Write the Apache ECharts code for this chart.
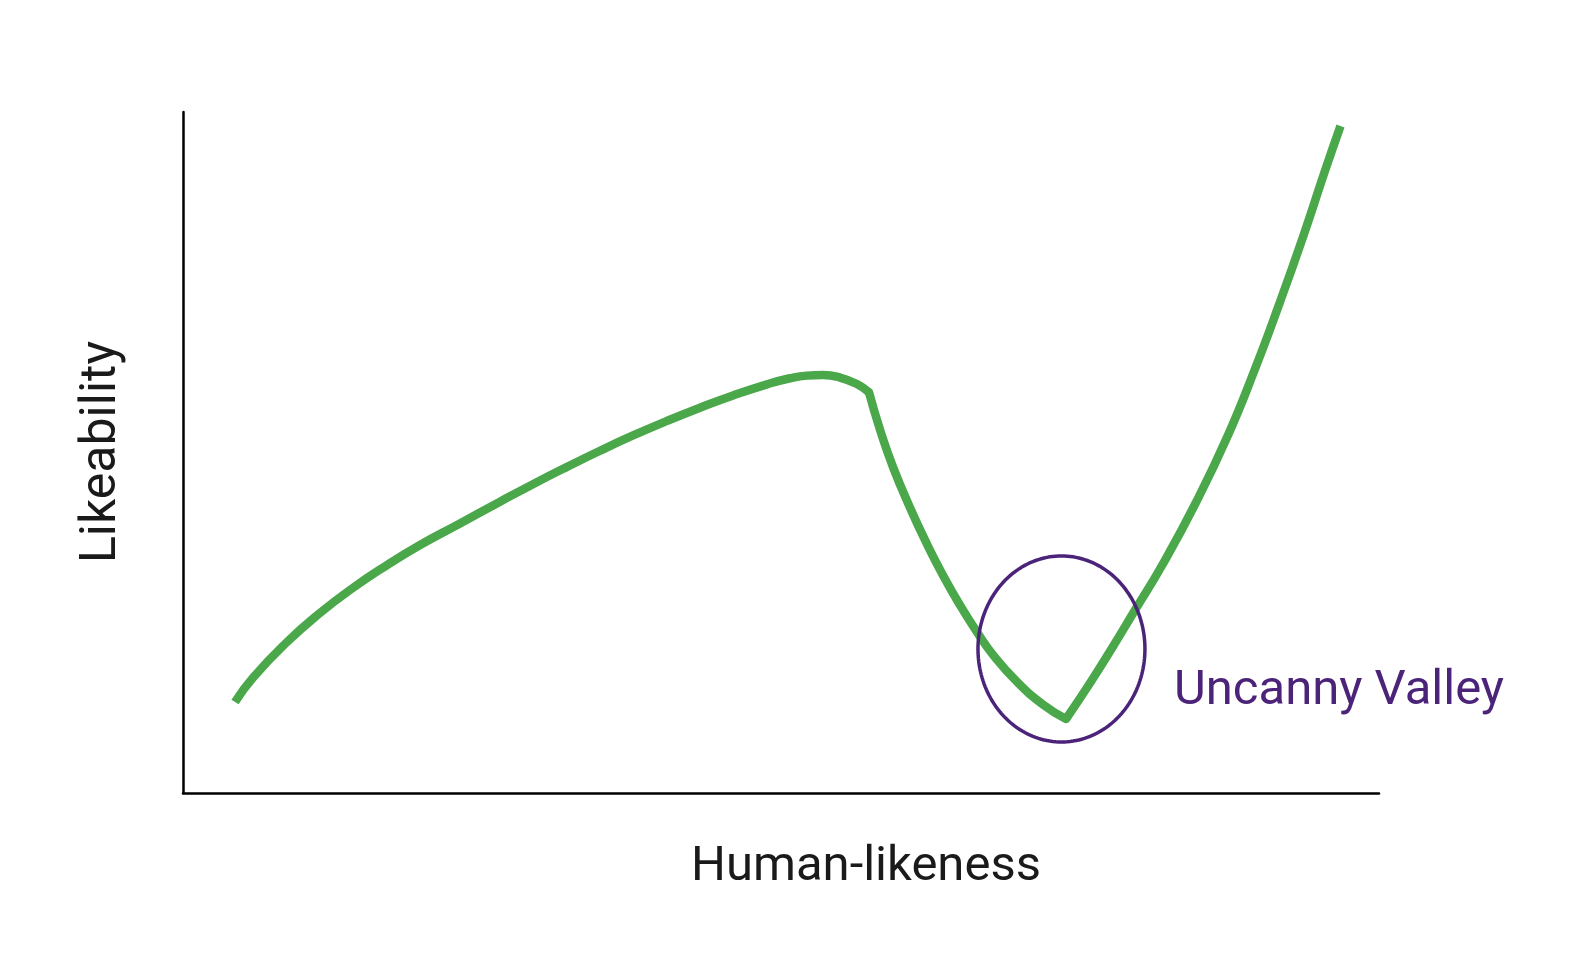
<!DOCTYPE html>
<html>
<head>
<meta charset="utf-8">
<style>
  html, body { margin: 0; padding: 0; background: #ffffff; }
  #chart { width: 1589px; height: 958px; }
</style>
<script src="https://cdn.jsdelivr.net/npm/echarts@6/dist/echarts.min.js"></script>
</head>
<body>
<div id="chart"></div>
<script>
// ---- Data (axes are unitless 0–100) ----
// Rising part up to the peak and the sharp drop-off point
const riseX = [4.35, 5.85, 8.70, 11.45, 14.21, 17.06, 19.82, 23.16, 26.51, 29.26, 32.11, 34.87, 37.63, 40.47, 43.23, 45.99, 48.83, 50.75, 52.17, 53.51, 54.93, 56.35, 57.36];
const riseY = [13.36, 16.93, 22.17, 26.43, 30.12, 33.47, 36.42, 39.57, 42.78, 45.35, 47.89, 50.26, 52.50, 54.64, 56.58, 58.37, 60.01, 60.90, 61.29, 61.37, 61.01, 60.06, 58.83];
// Falling part into the valley
const fallX = [57.36, 58.28, 59.36, 60.79, 62.21, 63.55, 64.97, 66.39, 67.73, 69.73, 71.91, 73.83];
const fallY = [58.83, 53.33, 47.89, 41.89, 36.53, 31.95, 27.58, 23.63, 20.29, 16.34, 12.98, 10.87];
// Recovery towards full human-likeness
const recoverX = [73.83, 75.84, 77.68, 79.60, 81.83, 84.76, 87.40, 89.63, 91.72, 93.67, 95.48, 96.78];
const recoverY = [10.87, 16.15, 21.29, 26.87, 33.33, 42.88, 52.64, 62.26, 72.10, 81.79, 91.34, 97.94];

// Annotation ring around the valley: centre x, centre y, radius x, radius y (data units)
const valleyRing = [73.45, 21.15, 6.98, 13.66];
const valleyLabel = 'Uncanny Valley';
const valleyLabelAt = [82.86, 11.2];
const xAxisTitle = 'Human-likeness';
const yAxisTitle = 'Likeability';

const chart = echarts.init(document.getElementById('chart'));

const zip = (xs, ys) => xs.map((x, i) => [x, ys[i]]);
const GREEN = '#4aa84b';
const PURPLE = '#4b2479';

function segment(data, cap) {
  return {
    type: 'line',
    data: data,
    showSymbol: false,
    smooth: 0.5,
    lineStyle: { color: GREEN, width: 8.5, cap: cap, join: 'miter' },
    z: 2,
    silent: true
  };
}

const option = {
  backgroundColor: '#ffffff',
  animation: false,
  grid: { left: 183, right: 210, top: 112, bottom: 165 },
  xAxis: {
    type: 'value', min: 0, max: 100,
    axisLine: { show: true, lineStyle: { color: '#000', width: 2.5 } },
    axisTick: { show: false }, axisLabel: { show: false }, splitLine: { show: false }
  },
  yAxis: {
    type: 'value', min: 0, max: 100,
    axisLine: { show: true, lineStyle: { color: '#000', width: 2.5 } },
    axisTick: { show: false }, axisLabel: { show: false }, splitLine: { show: false }
  },
  graphic: [
    {
      type: 'text', x: 866, y: 868,
      style: { text: xAxisTitle, font: '49px Roboto', fill: '#1a1a1a', align: 'center', verticalAlign: 'middle' }
    },
    {
      type: 'text', x: 102, y: 452, rotation: Math.PI / 2,
      style: { text: yAxisTitle, font: '50px Roboto', fill: '#1a1a1a', align: 'center', verticalAlign: 'middle' }
    }
  ],
  series: [
    segment(zip(riseX, riseY), 'butt'),
    segment(zip(fallX, fallY), 'round'),
    segment(zip(recoverX, recoverY), 'butt'),
    {
      type: 'custom',
      data: [valleyRing],
      z: 3,
      silent: true,
      renderItem: function (params, api) {
        const cx = api.value(0), cy = api.value(1), rx = api.value(2), ry = api.value(3);
        const pts = [];
        const n = 180;
        for (let k = 0; k < n; k++) {
          const t = (k / n) * Math.PI * 2;
          pts.push(api.coord([cx + rx * Math.cos(t), cy + ry * Math.sin(t)]));
        }
        const labelPos = api.coord(valleyLabelAt);
        return {
          type: 'group',
          children: [
            {
              type: 'polygon',
              shape: { points: pts },
              style: { fill: 'none', stroke: PURPLE, lineWidth: 3.5 }
            },
            {
              type: 'text',
              x: labelPos[0], y: labelPos[1],
              style: { text: valleyLabel, font: '49px Roboto', fill: PURPLE, align: 'left', verticalAlign: 'bottom' }
            }
          ]
        };
      }
    }
  ]
};
chart.setOption(option);
</script>
</body>
</html>
